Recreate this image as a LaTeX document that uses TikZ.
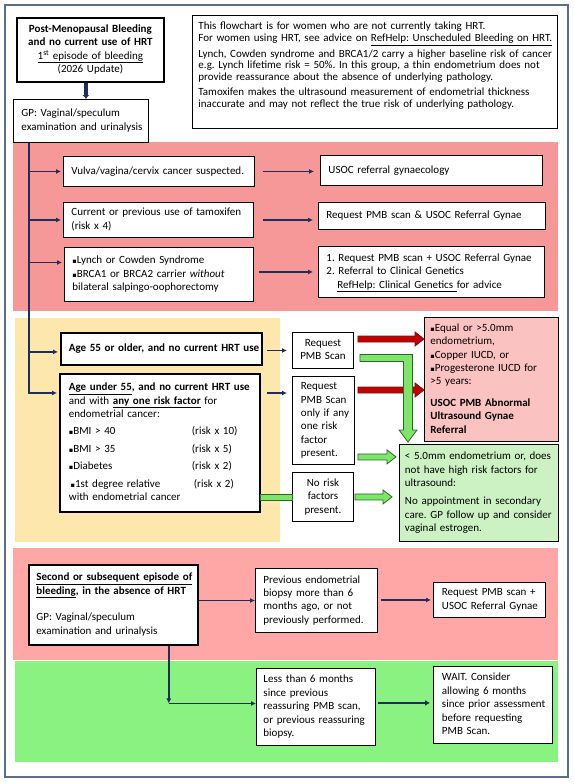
\documentclass[tikz,border=0pt]{standalone}
\usepackage{fontspec}
\setmainfont{Carlito}
\newfontfamily\dejavu{DejaVu Sans}
\usetikzlibrary{calc,arrows.meta}
\definecolor{framec}{RGB}{90,110,140}
\definecolor{navy}{RGB}{31,45,90}
\definecolor{redband}{RGB}{246,152,152}
\definecolor{redbandb}{RGB}{255,166,166}
\definecolor{yelband}{RGB}{253,231,172}
\definecolor{greenband}{RGB}{138,242,128}
\definecolor{pinkbox}{RGB}{251,194,194}
\definecolor{greenbox}{RGB}{204,242,196}
\definecolor{fatred}{RGB}{192,0,0}
\definecolor{fatredline}{RGB}{120,20,20}
\definecolor{fatgreen}{RGB}{125,230,105}
\definecolor{fatgreenline}{RGB}{40,105,40}
\newcommand\sq{{\dejavu\fontsize{6.5}{7}\selectfont ▪}}
\newcommand\lcol[1]{\begin{tabular}{@{}l@{}}#1\end{tabular}}
\newcommand\ccol[1]{\begin{tabular}{@{}c@{}}#1\end{tabular}}
% horizontal fat arrow: style, start, end (x of end only)
\newcommand\fatH[3]{\filldraw[#1] let \p1=(#2), \p2=(#3) in
  (\x1,\y1+3pt) -- (\x2-9pt,\y1+3pt) -- (\x2-9pt,\y1+7pt) -- (\x2,\y1)
  -- (\x2-9pt,\y1-7pt) -- (\x2-9pt,\y1-3pt) -- (\x1,\y1-3pt) -- cycle;}
\begin{document}
\begin{tikzpicture}[x=1pt,y=-1pt,
  box/.style={draw=black, line width=0.9pt, fill=white, anchor=north west,
    inner ysep=0pt, inner xsep=8pt, align=left,
    font=\fontsize{11}{13.4}\selectfont\frenchspacing},
  tbox/.style={box, line width=1.8pt},
  nav/.style={draw=navy, line width=1.8pt},
  navarr/.style={nav, -{Latex[length=5pt,width=5pt]}},
  redfat/.style={fill=fatred, draw=fatredline, line width=0.8pt},
  greenfat/.style={fill=fatgreen, draw=fatgreenline, line width=0.8pt}]
\useasboundingbox (0,0) rectangle (573,784);
% bands
\fill[redband] (13,142) rectangle (558,311);
\fill[yelband] (15,318) rectangle (280,542);
\fill[redbandb] (13,548) rectangle (558,660);
\fill[greenband] (15,661) rectangle (558,762);
\draw[framec, line width=1.6pt] (5,5) rectangle (568,777);

% top
\node[tbox, align=center, minimum height=64pt, text width=131pt] (title) at (16,17)
 {\ccol{\textbf{Post-Menopausal Bleeding}\\ \textbf{and no current use of HRT}\\
  \underline{1\textsuperscript{st} episode of bleeding}\\ (2026 Update)}};
\node[box, minimum height=43pt, text width=119pt] (gp) at (13,99)
 {\lcol{GP: Vaginal/speculum\\ examination and urinalysis}};
\node[box, inner xsep=6pt, minimum height=113pt, text width=353pt,
      font=\fontsize{11}{11.8}\selectfont\frenchspacing] (note) at (192,15)
 {\lcol{This flowchart is for women who are not currently taking HRT.\\
  For women using HRT, see advice on \underline{RefHelp: Unscheduled Bleeding on HRT.}\\[3.5pt]
  Lynch, Cowden syndrome and BRCA1/2 carry a higher baseline risk of cancer\\
  e.g. Lynch lifetime risk = 50\%. In this group, a thin endometrium does not\\
  provide reassurance about the absence of underlying pathology.\\[3.5pt]
  Tamoxifen makes the ultrasound measurement of endometrial thickness\\
  inaccurate and may not reflect the true risk of underlying pathology.\\[11pt]}};

% red band 1
\node[box, minimum height=30pt, text width=175pt] (a1) at (63,156) {\lcol{Vulva/vagina/cervix cancer suspected.}};
\node[box, minimum height=30pt, text width=206pt] (a2) at (320,155) {\lcol{USOC referral gynaecology}};
\node[box, minimum height=35pt, text width=174pt] (b1) at (63,202) {\lcol{Current or previous use of tamoxifen\\ (risk x 4)}};
\node[box, minimum height=27pt, text width=211pt] (b2) at (318,202) {\lcol{Request PMB scan \& USOC Referral Gynae}};
\node[box, minimum height=54pt, text width=173pt] (c1) at (64,247)
 {\lcol{\sq Lynch or Cowden Syndrome\\ \sq BRCA1 or BRCA2 carrier \textit{without}\\ bilateral salpingo-oophorectomy}};
\node[box, minimum height=51pt, text width=210pt] (c2) at (318,246)
 {\lcol{1. Request PMB scan + USOC Referral Gynae\\ 2. Referral to Clinical Genetics\\
  \hspace*{11pt}\underline{RefHelp: Clinical Genetics }for advice}};

% yellow band
\node[tbox, align=center, minimum height=32pt, text width=185pt] (age55) at (60,332)
 {\ccol{\textbf{Age 55 or older, and no current HRT use}}};
\node[tbox, inner xsep=9pt, minimum height=138pt, text width=182pt] (u55) at (59,373)
 {\lcol{\textbf{\underline{Age under 55}, and no current HRT use}\\
  and with \textbf{\underline{any one risk factor}} for\\
  endometrial cancer:\\[4pt]
  \makebox[123pt][l]{\sq BMI > 40}(risk x 10)\\[4pt]
  \makebox[123pt][l]{\sq BMI > 35}(risk x 5)\\[4pt]
  \makebox[123pt][l]{\sq Diabetes}(risk x 2)\\[4pt]
  \makebox[125pt][l]{\,\sq 1st degree relative}(risk x 2)\\
  with endometrial cancer}};
\node[box, align=center, inner xsep=4pt, minimum height=36pt, text width=53pt] (reqpmb) at (292,332)
 {\ccol{Request\\ PMB Scan}};
\node[box, inner xsep=8.5pt, minimum height=88pt, text width=45pt] (reqonly) at (292,376)
 {\lcol{Request\\ PMB Scan\\ only if any\\ one risk\\ factor\\ present.}};
\node[box, align=center, inner xsep=4pt, minimum height=49pt, text width=53pt] (norisk) at (292,472)
 {\ccol{No risk\\ factors\\ present.}};
\node[box, fill=pinkbox, inner xsep=6pt, minimum height=124pt, text width=122pt] (pink) at (424,317)
 {\lcol{\sq Equal or >5.0mm\\ endometrium,\\ \sq Copper IUCD, or\\ \sq Progesterone IUCD for\\ >5 years:\\[8pt]
  \textbf{USOC PMB Abnormal}\\ \textbf{Ultrasound Gynae}\\ \textbf{Referral}}};
\node[box, fill=greenbox, inner xsep=5.5pt, minimum height=97pt, text width=148pt] (green) at (399,444)
 {\lcol{< 5.0mm endometrium or, does\\ not have high risk factors for\\ ultrasound:\\[5pt]
  No appointment in secondary\\ care. GP follow up and consider\\ vaginal estrogen.}};

% lower bands
\node[tbox, inner xsep=7.5pt, minimum height=80pt, text width=154pt] (second) at (28,564)
 {\lcol{\textbf{\underline{Second or subsequent episode of}}\\
  \textbf{\underline{bleeding}, in the absence of HRT}\\[13pt]
  GP: Vaginal/speculum\\ examination and urinalysis}};
\node[box, minimum height=64pt, text width=106pt] (prev) at (255,568)
 {\lcol{Previous endometrial\\ biopsy more than 6\\ months ago, or not\\ previously performed.}};
\node[box, inner xsep=8.5pt, minimum height=35pt, text width=95pt] (req2) at (433,582)
 {\lcol{Request PMB scan +\\ USOC Referral Gynae}};
\node[box, inner xsep=7pt, minimum height=77pt, text width=105pt] (less) at (256,668)
 {\lcol{Less than 6 months\\ since previous\\ reassuring PMB scan,\\ or previous reassuring\\ biopsy.}};
\node[box, inner xsep=8.5pt, minimum height=77pt, text width=102pt] (wait) at (433,666)
 {\lcol{WAIT. Consider\\ allowing 6 months\\ since prior assessment\\ before requesting\\ PMB Scan.}};

% connectors
\draw[navy, line width=3.5pt, -{Latex[length=4pt,width=7pt]}]
  ([xshift=-4.5pt]title.south) -- ([xshift=-4.5pt]title.south |- gp.north);
\coordinate (sp) at (29,0);
\coordinate (u55in) at ($(u55.north west)+(0,20)$);
\coordinate (c1in) at ([yshift=12pt]c1.west);
\coordinate (a55in) at ([yshift=-3pt]age55.west);
\draw[navarr, shorten >=2pt] (gp.south -| sp) -- (sp |- u55in) -- (u55in);
\draw[navarr, shorten >=2pt] (sp |- a1.west) -- (a1.west);
\draw[navarr, shorten >=2pt] (sp |- b1.west) -- (b1.west);
\draw[navarr, shorten >=2pt] (sp |- c1in) -- (c1in);
\draw[navarr, shorten >=2pt] (sp |- a55in) -- (a55in);
\draw[navarr, shorten <=8pt, shorten >=6pt] (a1.east) -- (a1.east -| a2.west);
\draw[navarr, shorten <=9pt, shorten >=5pt] (b1.east) -- (b1.east -| b2.west);
\draw[navarr, shorten <=5pt, shorten >=5pt] (c2.west -| c1.east) -- (c2.west);
\draw[navarr, shorten <=4pt, shorten >=5pt] (reqpmb.west -| age55.east) -- (reqpmb.west);
\draw[navarr, shorten <=6pt, shorten >=5pt] (u55in -| u55.east) -- (u55in -| reqonly.west);

\fatH{redfat}{[xshift=4pt,yshift=-7pt]reqpmb.north east}{pink.west}
\fatH{redfat}{[xshift=3pt,yshift=-14pt]reqonly.north east}{pink.west}
\fatH{greenfat}{[xshift=3pt,yshift=8pt]reqonly.south east}{[xshift=-3pt]green.west}
\fatH{greenfat}{[xshift=1pt]norisk.east}{[xshift=-7pt]green.west}
\filldraw[greenfat] let \p1=(norisk.west -| u55.east), \p2=(norisk.west) in
  (\x1,\y1+3pt) rectangle (\x2,\y1-3pt);
\filldraw[greenfat] let \p1=([xshift=6pt,yshift=-26pt]reqpmb.north east),
  \p2=([xshift=9pt]green.north west), \p3=([yshift=2pt]green.north west) in
  (\x1,\y1+3.5pt) -- (\x2+4.5pt,\y1+3.5pt) -- (\x2+4.5pt,\y3+12pt) -- (\x2+9pt,\y3+12pt)
  -- (\x2,\y3) -- (\x2-9pt,\y3+12pt) -- (\x2-4.5pt,\y3+12pt) -- (\x2-4.5pt,\y1-3.5pt)
  -- (\x1,\y1-3.5pt) -- cycle;

\draw[navarr] (second.east |- prev.west) -- (prev.west);
\draw[navarr, shorten <=3pt, shorten >=2pt] (req2.west -| prev.east) -- (req2.west);
\coordinate (sc) at ($(second.south east)+(-30,0)$);
\coordinate (lc) at ($(less.west)+(0,-3.5)$);
\draw[navarr] (sc) -- (sc |- lc);
\draw[navarr] (sc |- lc) -- (lc);
\draw[navy, line width=2.8pt, -{Latex[length=5pt,width=6pt]}, shorten <=2pt, shorten >=3pt]
  ([yshift=4pt]less.east) -- ([yshift=4pt]less.east -| wait.west);
\end{tikzpicture}
\end{document}
